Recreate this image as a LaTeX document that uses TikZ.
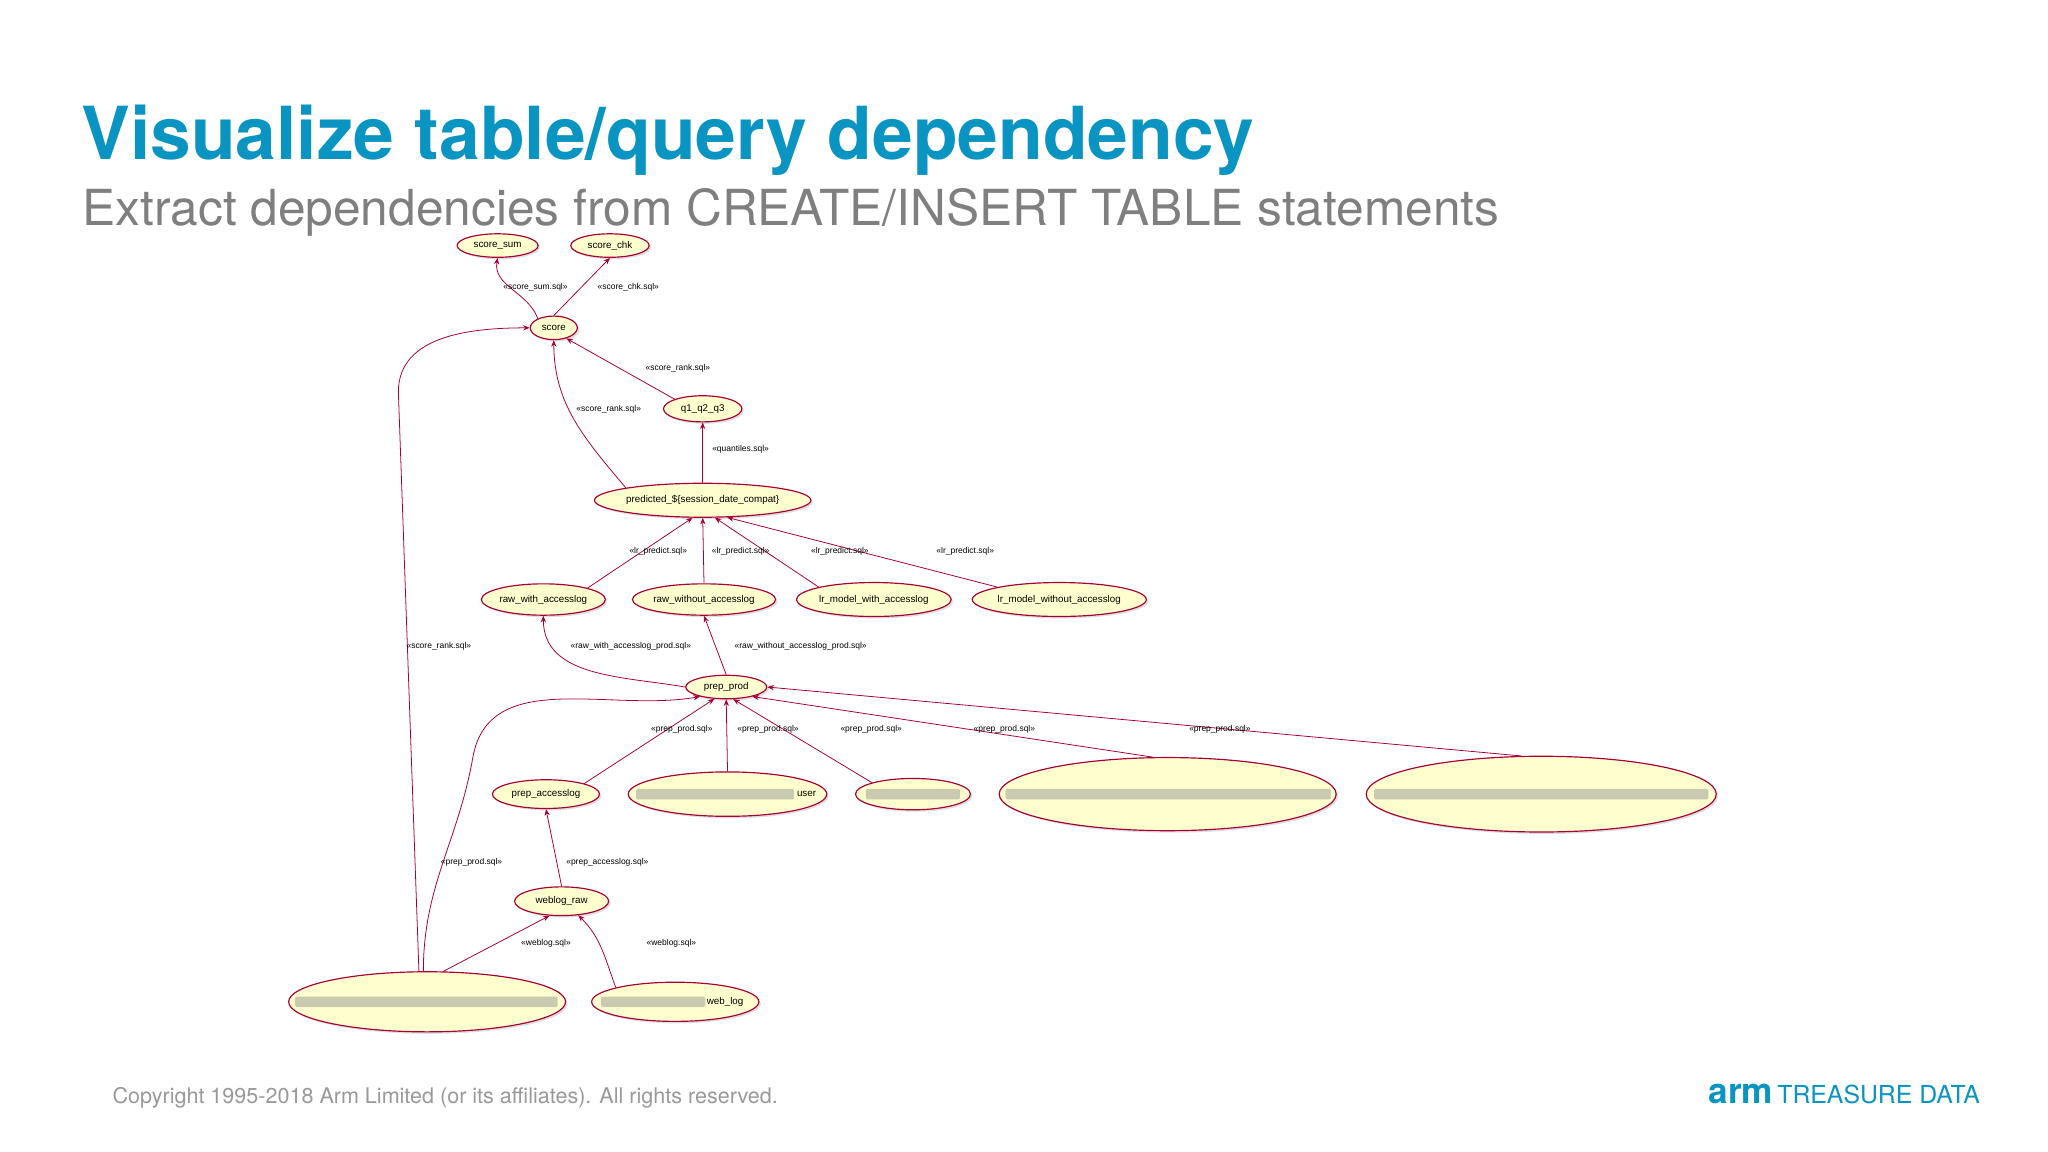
\documentclass[tikz,border=0pt]{standalone}
\usepackage{fontspec}
\setmainfont{TeX Gyre Heros}
\newfontfamily\lab{Liberation Sans}
\usetikzlibrary{shapes.geometric,arrows.meta}
\definecolor{ufill}{HTML}{FEFECE}
\definecolor{uline}{HTML}{A80036}
\definecolor{ttl}{HTML}{0A94C2}
\definecolor{sub}{HTML}{7F7F7F}
\tikzset{
 en/.style={ellipse,draw=uline,fill=ufill,line width=0.9pt,inner sep=0pt,font=\lab\fontsize{7.5}{8}\selectfont,
   drop shadow={shadow xshift=1.5pt,shadow yshift=-1.5pt,fill=black!25}},
 dep/.style={draw=uline,line width=0.6pt,-{Stealth[length=5pt,width=4pt]}},
 lb/.style={font=\lab\fontsize{6.5}{7}\selectfont,inner sep=1pt},
 blur/.style={fill=black!45,opacity=0.45,rounded corners=1pt}
}
\usetikzlibrary{shadows}
\begin{document}
\begin{tikzpicture}[x=1pt,y=-1pt]
\useasboundingbox[fill=white] (0,0) rectangle (1568,882);
\node[anchor=base west,inner sep=0,text=ttl,font=\fontsize{56}{60}\selectfont\bfseries] (title) at (62,122) {Visualize table/query dependency};
\node[anchor=base west,inner sep=0,text=sub,font=\fontsize{38}{42}\selectfont] (subt) at (63,173) {Extract dependencies from CREATE/INSERT TABLE statements};
\node[anchor=base west,inner sep=0,text=black!40,font=\fontsize{16.5}{18}\selectfont] (copy) at (86,845) {Copyright 1995-2018 Arm Limited (or its affiliates). All rights reserved.};
\node[anchor=base east,inner sep=0,text=ttl,font=\fontsize{19}{20}\selectfont] (logo) at (1516,845) {{\fontsize{27}{28}\selectfont\bfseries arm}\,TREASURE DATA};

\node[en,minimum width=62,minimum height=18] (ssum) at (381,188) {score\_sum};
\node[en,minimum width=60,minimum height=18] (schk) at (467,188) {score\_chk};
\node[en,minimum width=36,minimum height=18] (score) at (424,251) {score};
\node[en,minimum width=60,minimum height=20] (q) at (538,313) {q1\_q2\_q3};
\node[en,minimum width=152,minimum height=26] (pred) at (538,383) {predicted\_\$\{session\_date\_compat\}};
\node[en,minimum width=94,minimum height=24] (rw) at (416,459) {raw\_with\_accesslog};
\node[en,minimum width=108,minimum height=24] (rwo) at (539,459) {raw\_without\_accesslog};
\node[en,minimum width=116,minimum height=26] (lw) at (669,459) {lr\_model\_with\_accesslog};
\node[en,minimum width=128,minimum height=26] (lwo) at (811,459) {lr\_model\_without\_accesslog};
\node[en,minimum width=62,minimum height=18] (pp) at (556,526) {prep\_prod};
\node[en,minimum width=82,minimum height=22] (pa) at (418,608) {prep\_accesslog};
\node[en,minimum width=152,minimum height=34] (b1) at (557,608) {};
\node[en,minimum width=88,minimum height=24] (b2) at (699,608) {};
\node[en,minimum width=258,minimum height=56] (b3) at (894,608) {};
\node[en,minimum width=268,minimum height=58] (b4) at (1180,608) {};
\node[en,minimum width=72,minimum height=22] (wr) at (430,690) {weblog\_raw};
\node[en,minimum width=212,minimum height=46] (ba) at (327,767) {};
\node[en,minimum width=128,minimum height=30] (wl) at (517,767) {};
\fill[blur] (487,604) rectangle (608,612);
\node[lb,font=\lab\fontsize{7.5}{8}\selectfont,anchor=west] (b1t) at (609,608) {user};
\fill[blur] (663,604) rectangle (735,612);
\fill[blur] (770,604) rectangle (1019,612);
\fill[blur] (1052,604) rectangle (1308,612);
\fill[blur] (226,763) rectangle (427,771);
\fill[blur] (460,763) rectangle (540,771);
\node[lb,font=\lab\fontsize{7.5}{8}\selectfont,anchor=west] (wlt) at (540,767) {web\_log};

\draw[dep] (score.150) to[out=110,in=-100] (ssum.south);
\draw[dep] (score.north) -- (schk.south);
\draw[dep] (q.north west) -- (score.-40);
\draw[dep] (pred.north west) to[out=130,in=-90] (score.south);
\draw[dep] (pred.north) -- (q.south);
\draw[dep] (rw.north east) -- (pred.-120);
\draw[dep] (rwo.north) -- (pred.south);
\draw[dep] (lw.north west) -- (pred.-55);
\draw[dep] (lwo.north west) -- (pred.-35);
\draw[dep] (pp.west) to[out=170,in=-90] (rw.south);
\draw[dep] (pp.north) -- (rwo.south);
\draw[dep] (pa.north east) -- (pp.-135);
\draw[dep] (b1.north) -- (pp.south);
\draw[dep] (b2.north west) -- (pp.-60);
\draw[dep] (b3.112) -- (pp.-20);
\draw[dep] (b4.118) -- (pp.east);
\draw[dep] (wr.north) -- (pa.south);
\draw[dep] (ba.62) -- (wr.-130);
\draw[dep] (wl.north west) to[out=110,in=-45] (wr.-40);
\draw[dep] (ba.105) -- (305,300) to[out=90,in=180] (score.west);
\draw[dep] (ba.97) to[out=90,in=-100] (362,580) to[out=80,in=190] (pp.-160);

\node[lb] (l1) at (410,220) {«score\_sum.sql»};
\node[lb] (l2) at (481,220) {«score\_chk.sql»};
\node[lb] (l3) at (519,282) {«score\_rank.sql»};
\node[lb] (l4) at (466,313) {«score\_rank.sql»};
\node[lb] (l5) at (567,344) {«quantiles.sql»};
\node[lb] (l6) at (504,422) {«lr\_predict.sql»};
\node[lb] (l7) at (567,422) {«lr\_predict.sql»};
\node[lb] (l8) at (643,422) {«lr\_predict.sql»};
\node[lb] (l9) at (739,422) {«lr\_predict.sql»};
\node[lb] (l10) at (483,495) {«raw\_with\_accesslog\_prod.sql»};
\node[lb] (l11) at (613,495) {«raw\_without\_accesslog\_prod.sql»};
\node[lb] (l12) at (336,495) {«score\_rank.sql»};
\node[lb] (l13) at (522,558) {«prep\_prod.sql»};
\node[lb] (l14) at (588,558) {«prep\_prod.sql»};
\node[lb] (l15) at (667,558) {«prep\_prod.sql»};
\node[lb] (l16) at (769,558) {«prep\_prod.sql»};
\node[lb] (l17) at (934,558) {«prep\_prod.sql»};
\node[lb] (l18) at (361,660) {«prep\_prod.sql»};
\node[lb] (l19) at (465,660) {«prep\_accesslog.sql»};
\node[lb] (l20) at (418,722) {«weblog.sql»};
\node[lb] (l21) at (514,722) {«weblog.sql»};
\end{tikzpicture}
\end{document}
